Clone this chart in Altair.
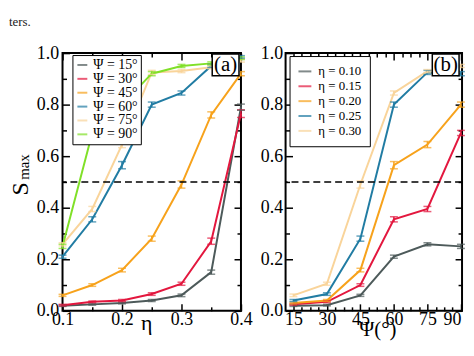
import altair as alt
import pandas as pd

# ---------------- data ----------------
eta_values = [0.10, 0.15, 0.20, 0.25, 0.30, 0.35, 0.40]
psi_values = [15, 30, 45, 60, 75, 90]

# S_max for each Psi, as function of eta
s_psi15 = [0.020, 0.025, 0.030, 0.040, 0.060, 0.150, 0.790]
s_psi30 = [0.022, 0.035, 0.040, 0.065, 0.105, 0.270, 0.765]
s_psi45 = [0.060, 0.100, 0.158, 0.280, 0.490, 0.760, 0.920]
s_psi60 = [0.210, 0.355, 0.565, 0.800, 0.845, 0.950, 0.985]
s_psi75 = [0.258, 0.395, 0.645, 0.925, 0.930, 0.945, 0.970]
s_psi90 = [0.250, 0.690, 0.800, 0.920, 0.950, 0.960, 0.980]

err_psi15 = [0.003, 0.003, 0.003, 0.004, 0.005, 0.008, 0.012]
err_psi30 = [0.003, 0.003, 0.004, 0.005, 0.006, 0.012, 0.015]
err_psi45 = [0.004, 0.005, 0.007, 0.010, 0.014, 0.012, 0.008]
err_psi60 = [0.006, 0.010, 0.014, 0.010, 0.008, 0.006, 0.005]
err_psi75 = [0.006, 0.010, 0.012, 0.008, 0.006, 0.006, 0.005]
err_psi90 = [0.008, 0.010, 0.010, 0.008, 0.006, 0.006, 0.005]

psi_labels = ["Ψ = 15°", "Ψ = 30°", "Ψ = 45°", "Ψ = 60°", "Ψ = 75°", "Ψ = 90°"]
eta_labels = ["η = 0.10", "η = 0.15", "η = 0.20", "η = 0.25", "η = 0.30"]
series_colors = ["#4d5a5a", "#e3173e", "#f7a21b", "#217ca3", "#f9d49a", "#80e028"]

threshold = [0.5]

x_major_a = [0.1, 0.2, 0.3, 0.4]
x_minor_a = [0.15, 0.25, 0.35]
x_major_b = [15, 30, 45, 60, 75, 90]
x_minor_b = [18.75, 22.5, 26.25, 33.75, 37.5, 41.25, 48.75, 52.5, 56.25,
             63.75, 67.5, 71.25, 78.75, 82.5, 86.25]
y_major = [0.0, 0.2, 0.4, 0.6, 0.8, 1.0]
y_minor = [0.1, 0.3, 0.5, 0.7, 0.9]

s_rows = [s_psi15, s_psi30, s_psi45, s_psi60, s_psi75, s_psi90]
e_rows = [err_psi15, err_psi30, err_psi45, err_psi60, err_psi75, err_psi90]

rows = []
for pi, psi in enumerate(psi_values):
    for ei, eta in enumerate(eta_values):
        s = s_rows[pi][ei]
        e = e_rows[pi][ei]
        rows.append({"psi": psi, "eta": eta, "S": s, "lo": s - e, "hi": s + e,
                     "psi_lab": psi_labels[pi],
                     "eta_lab": eta_labels[ei] if ei < len(eta_labels) else None})
df = pd.DataFrame(rows)
df_a = df
df_b = df[df["eta_lab"].notna()]

FONT = "Liberation Serif"


def axis(values, orient, size, labels=False, fmt=None, pad=0, flush=False):
    kw = dict(values=values, orient=orient, tickSize=size, offset=-size,
              domain=False, grid=False, labels=labels, title=None,
              tickColor="black", tickWidth=1.5)
    if labels:
        kw.update(format=fmt, labelFont=FONT, labelFontSize=18, labelColor="black",
                  labelPadding=pad, labelOverlap=False, labelFlush=flush)
    return alt.Axis(**kw)


def panel(data, xfield, xdomain, xmaj, xmin, xfmt, cfield, cdomain, crange,
          legend, tag, tag_x0, width, title_layers, ypad, xflush):
    xs = alt.Scale(domain=xdomain, nice=False, zero=False)
    ys = alt.Scale(domain=[0, 1], nice=False, zero=False)
    color = alt.Color(f"{cfield}:N", scale=alt.Scale(domain=cdomain, range=crange),
                      legend=legend)
    base = alt.Chart(data)
    lines = base.mark_line(strokeWidth=2).encode(
        x=alt.X(f"{xfield}:Q", scale=xs,
                axis=axis(xmaj, "bottom", 7, True, xfmt, 0, xflush)),
        y=alt.Y("S:Q", scale=ys, axis=axis(y_major, "left", 7, True, ".1f", ypad)),
        color=color,
    )
    bars = base.mark_rule(strokeWidth=1.5).encode(
        x=alt.X(f"{xfield}:Q", scale=xs, axis=axis(xmaj, "top", 7)),
        y=alt.Y("lo:Q", scale=ys, axis=axis(y_major, "right", 7)),
        y2="hi:Q",
        color=color,
    )
    cap_hi = base.mark_tick(orient="horizontal", size=8, thickness=1.5).encode(
        x=alt.X(f"{xfield}:Q", scale=xs, axis=axis(xmin, "bottom", 4)),
        y=alt.Y("hi:Q", scale=ys, axis=axis(y_minor, "left", 4)),
        color=color,
    )
    cap_lo = base.mark_tick(orient="horizontal", size=8, thickness=1.5).encode(
        x=alt.X(f"{xfield}:Q", scale=xs, axis=axis(xmin, "top", 4)),
        y=alt.Y("lo:Q", scale=ys, axis=axis(y_minor, "right", 4)),
        color=color,
    )
    dashed = alt.Chart(pd.DataFrame({"half": threshold})).mark_rule(
        strokeDash=[7, 4], strokeWidth=1.5, color="black"
    ).encode(y=alt.Y("half:Q", scale=ys, axis=None))
    tagdf = pd.DataFrame({"t": [tag]})
    box = alt.Chart(tagdf).mark_rect(fill="white", stroke="black", strokeWidth=1.5).encode(
        x=alt.value(tag_x0), x2=alt.value(tag_x0 + 27), y=alt.value(1), y2=alt.value(23)
    )
    tagtext = alt.Chart(tagdf).mark_text(font=FONT, fontSize=21, color="black",
                                         align="center", baseline="middle").encode(
        x=alt.value(tag_x0 + 13.5), y=alt.value(12.5), text="t:N"
    )
    layers = [lines, bars, cap_hi, cap_lo, dashed, box, tagtext] + title_layers
    return alt.layer(*layers).resolve_axis(x="independent", y="independent").properties(
        width=width, height=260
    )


def text_layer(txt, x, y, size, angle=0, align="center", color="black"):
    kw = dict(font=FONT, fontSize=size, color=color, align=align, baseline="alphabetic")
    if angle:
        kw["angle"] = angle
    return alt.Chart(pd.DataFrame({"t": [txt]})).mark_text(**kw).encode(
        x=alt.value(x), y=alt.value(y), text="t:N"
    )


legend_a = alt.Legend(orient="none", legendX=10, legendY=2, title=None,
                      strokeColor="black", fillColor="white", padding=3,
                      rowPadding=-1, symbolType="stroke", symbolStrokeWidth=2,
                      symbolSize=100, labelFont=FONT, labelFontSize=14,
                      labelColor="black", labelOffset=4)
legend_b = alt.Legend(orient="none", legendX=4, legendY=3, title=None,
                      strokeColor="black", fillColor="white", padding=8,
                      rowPadding=0, symbolType="stroke", symbolStrokeWidth=2,
                      symbolSize=169, labelFont=FONT, labelFontSize=13,
                      labelColor="black", labelOffset=6)

titles_a = [
    text_layer("η", 85, 279, 22),
    text_layer("S", -35, 137, 24, angle=270),
    text_layer("max", -34, 115, 15, angle=270),
    text_layer("ters.", -54, -27, 13, align="left", color="#222222"),
]
titles_b = [text_layer("Ψ(°)", 93, 285, 21)]

left = panel(df_a, "eta", [0.1, 0.4], x_major_a, x_minor_a, ".1f", "psi_lab",
             psi_labels, series_colors, legend_a, "(a)", 151, 180, titles_a, 4, False)
right = panel(df_b, "psi", [11.5, 90.5], x_major_b, x_minor_b, "d", "eta_lab",
              eta_labels, series_colors[:5], legend_b, "(b)", 148, 178, titles_b, 3, 3)

chart = alt.hconcat(left, right, spacing=45, bounds="flush").resolve_scale(
    color="independent"
).resolve_legend(color="independent").properties(
    padding={"left": 0, "top": 6, "right": 0, "bottom": 0}
).configure_view(stroke="black", strokeWidth=2)

chart.save("out.html", embed_options={"renderer": "svg", "actions": False})
